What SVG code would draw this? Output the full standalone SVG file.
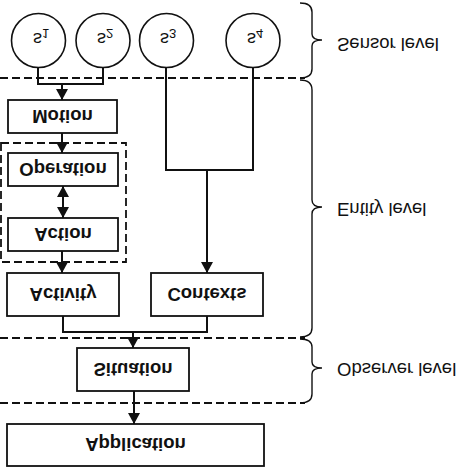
<svg xmlns="http://www.w3.org/2000/svg" width="474" height="468" viewBox="0 0 474 468">
<style>
.box{fill:#fff;stroke:#111;stroke-width:1.8}
.circ{fill:#fff;stroke:#111;stroke-width:1.6}
.lbl{font-family:"Liberation Sans",Arial,sans-serif;font-weight:bold;font-size:18.5px;fill:#111;text-anchor:middle}
.lvl{font-family:"Liberation Sans",Arial,sans-serif;font-size:18.5px;fill:#111}
.sen{font-family:"Liberation Sans",Arial,sans-serif;font-size:18px;fill:#111}
.con{fill:none;stroke:#111;stroke-width:2}
.dash{fill:none;stroke:#111;stroke-width:2;stroke-dasharray:8 4}
.brace{fill:none;stroke:#111;stroke-width:1.4}
</style>
<defs>
<marker id="ah" viewBox="0 0 11 12" refX="11" refY="6" markerWidth="11" markerHeight="12" markerUnits="userSpaceOnUse" orient="auto-start-reverse">
<path d="M0,0 L11,6 L0,12 z" fill="#111"/>
</marker>
</defs>
<g id="levels">
<path class="dash" d="M0 78 H305"/>
<path class="dash" d="M0 338 H305"/>
<path class="dash" d="M0 403 H305"/>
<path class="brace" d="M300 3 Q312 3 312 12 V34 Q312 40 322 40 Q312 40 312 46 V69 Q312 78 300 78"/>
<path class="brace" d="M300 80 Q312 80 312 90 V200 Q312 207 322 207 Q312 207 312 214 V328 Q312 337 300 337"/>
<path class="brace" d="M300 339 Q312 339 312 347 V362 Q312 368 322 368 Q312 368 312 374 V394 Q312 403 300 403"/>
<text class="lvl" transform="translate(337,38) scale(1,-1)">Sensor level</text>
<text class="lvl" transform="translate(337,203) scale(1,-1)">Entity level</text>
<text class="lvl" transform="translate(337,363) scale(1,-1)">Observer level</text>
</g>
<g id="connectors">
<path class="con" d="M38 68 V84 H103 V68"/>
<path class="con" d="M62 84 V100" marker-end="url(#ah)"/>
<path class="con" d="M62 133 V153" marker-end="url(#ah)"/>
<path class="con" d="M63 186 V218" marker-start="url(#ah)" marker-end="url(#ah)"/>
<path class="con" d="M62 251 V273" marker-end="url(#ah)"/>
<path class="con" d="M166 68 V170 H253 V68"/>
<path class="con" d="M207 170 V273" marker-end="url(#ah)"/>
<path class="con" d="M63 316 V332 H207 V316"/>
<path class="con" d="M133 332 V348" marker-end="url(#ah)"/>
<path class="con" d="M134 391 V424" marker-end="url(#ah)"/>
</g>
<g id="s1"><circle class="circ" cx="38.5" cy="40.5" r="27"/><text class="sen" transform="translate(33,33) scale(1,-1)">s<tspan font-size="13" dy="4">1</tspan></text></g>
<g id="s2"><circle class="circ" cx="103" cy="40.5" r="27"/><text class="sen" transform="translate(97,33) scale(1,-1)">s<tspan font-size="13" dy="4">2</tspan></text></g>
<g id="s3"><circle class="circ" cx="166.5" cy="40.5" r="27"/><text class="sen" transform="translate(160,33) scale(1,-1)">s<tspan font-size="13" dy="4">3</tspan></text></g>
<g id="s4"><circle class="circ" cx="253" cy="40.5" r="27"/><text class="sen" transform="translate(247,33) scale(1,-1)">s<tspan font-size="13" dy="4">4</tspan></text></g>
<g id="group"><rect class="dash" x="1" y="143" width="125" height="119" style="stroke-width:1.8"/></g>
<g id="motion"><rect class="box" x="8" y="100" width="109" height="33"/><text class="lbl" transform="translate(62.5,110) scale(1,-1)">Motion</text></g>
<g id="operation"><rect class="box" x="8" y="153" width="110" height="33"/><text class="lbl" transform="translate(63,163) scale(1,-1)">Operation</text></g>
<g id="action"><rect class="box" x="8" y="218" width="110" height="33"/><text class="lbl" transform="translate(63,228) scale(1,-1)">Action</text></g>
<g id="activity"><rect class="box" x="7" y="273" width="112" height="43"/><text class="lbl" transform="translate(63,288) scale(1,-1)">Activity</text></g>
<g id="contexts"><rect class="box" x="151" y="273" width="112" height="43"/><text class="lbl" transform="translate(207,288) scale(1,-1)">Contexts</text></g>
<g id="situation"><rect class="box" x="77" y="348" width="112" height="43"/><text class="lbl" transform="translate(133,363) scale(1,-1)">Situation</text></g>
<g id="application"><rect class="box" x="7" y="424" width="257" height="42"/><text class="lbl" transform="translate(135.5,438) scale(1,-1)">Application</text></g>
</svg>
